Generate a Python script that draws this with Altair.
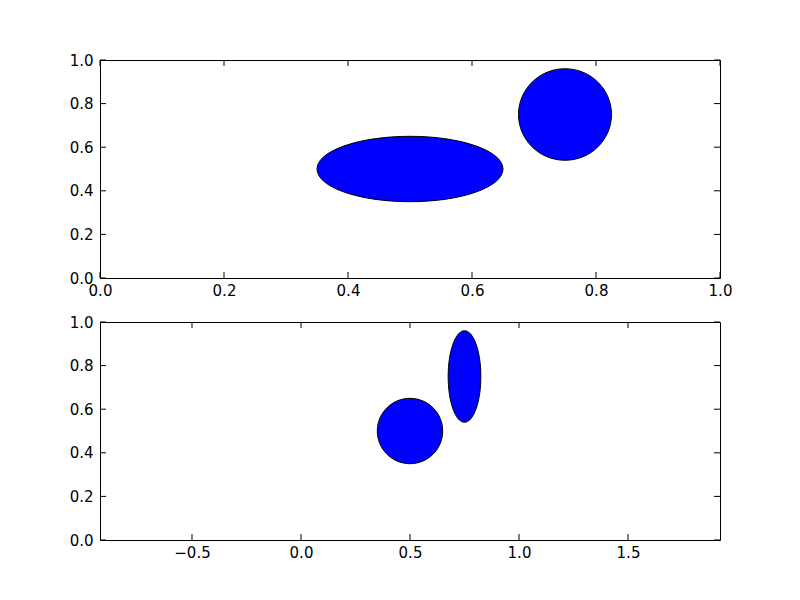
import altair as alt
import pandas as pd

# ---- data ----
centers_x = [0.5, 0.75]
centers_y = [0.5, 0.75]
widths = [0.30, 0.15]      # data units (x)
heights = [0.30, 0.42]     # data units (y)

y_ticks = [0.0, 0.2, 0.4, 0.6, 0.8, 1.0]
top_x_ticks = [0.0, 0.2, 0.4, 0.6, 0.8, 1.0]
bottom_x_ticks = [-0.5, 0.0, 0.5, 1.0, 1.5]
top_x_domain = [0.0, 1.0]
bottom_x_domain = [-0.922, 1.922]
y_domain = [0.0, 1.0]

# ---- layout constants ----
W, H = 620, 218
TICK = 6
K = 0.5523


def ellipse_path(pw, ph):
    m = max(pw, ph)
    rx, ry = pw / m, ph / m
    f = lambda v: f"{v:.4f}"
    return (f"M {f(rx)} 0 C {f(rx)} {f(K*ry)} {f(K*rx)} {f(ry)} 0 {f(ry)} "
            f"C {f(-K*rx)} {f(ry)} {f(-rx)} {f(K*ry)} {f(-rx)} 0 "
            f"C {f(-rx)} {f(-K*ry)} {f(-K*rx)} {f(-ry)} 0 {f(-ry)} "
            f"C {f(K*rx)} {f(-ry)} {f(rx)} {f(-K*ry)} {f(rx)} 0 Z"), m * m


def panel(xdom, xticks):
    xpx = W / (xdom[1] - xdom[0])
    ypx = H / (y_domain[1] - y_domain[0])
    paths, sizes = [], []
    for w, h in zip(widths, heights):
        p, s = ellipse_path(w * xpx, h * ypx)
        paths.append(p)
        sizes.append(s)
    df = pd.DataFrame({"cx": centers_x, "cy": centers_y, "path": paths, "size": sizes})

    xs = alt.Scale(domain=xdom, nice=False, zero=False)
    ys = alt.Scale(domain=y_domain, nice=False, zero=False)
    axis_common = dict(title=None, ticks=False, domain=False, grid=False,
                       labelFlush=False, labelOverlap=False, format=".1f")
    xaxis = alt.Axis(values=xticks, labelPadding=5, **axis_common)
    yaxis = alt.Axis(values=y_ticks, labelPadding=7, **axis_common)

    shapes = alt.Chart(df).mark_point(
        filled=True, fill="#0000ff", color="#0000ff", stroke="black",
        strokeWidth=1, opacity=1, fillOpacity=1, strokeOpacity=1
    ).encode(
        x=alt.X("cx:Q", scale=xs, axis=xaxis),
        y=alt.Y("cy:Q", scale=ys, axis=yaxis),
        shape=alt.Shape("path:N", scale=None),
        size=alt.Size("size:Q", scale=None),
    )

    ydf = pd.DataFrame({"v": y_ticks})
    xdf = pd.DataFrame({"v": xticks})
    left = alt.Chart(ydf).mark_rule(color="black").encode(
        y=alt.Y("v:Q", scale=ys, axis=yaxis), x=alt.value(0), x2=alt.value(TICK))
    right = alt.Chart(ydf).mark_rule(color="black").encode(
        y=alt.Y("v:Q", scale=ys, axis=yaxis), x=alt.value(W - TICK), x2=alt.value(W))
    bottom = alt.Chart(xdf).mark_rule(color="black").encode(
        x=alt.X("v:Q", scale=xs, axis=xaxis), y=alt.value(H - TICK), y2=alt.value(H))
    top = alt.Chart(xdf).mark_rule(color="black").encode(
        x=alt.X("v:Q", scale=xs, axis=xaxis), y=alt.value(0), y2=alt.value(TICK))

    return alt.layer(shapes, left, right, bottom, top).properties(width=W, height=H)


chart = alt.vconcat(
    panel(top_x_domain, top_x_ticks),
    panel(bottom_x_domain, bottom_x_ticks),
    spacing=44, bounds="flush",
).properties(
    padding={"left": 60, "top": 44, "right": 5, "bottom": 5},
    background="white",
).configure_view(
    stroke="black", strokeWidth=1
).configure_axis(
    labelFont="DejaVu Sans", labelFontSize=15, labelColor="black"
)

chart.save("out.html", embed_options={"renderer": "svg", "actions": False})
